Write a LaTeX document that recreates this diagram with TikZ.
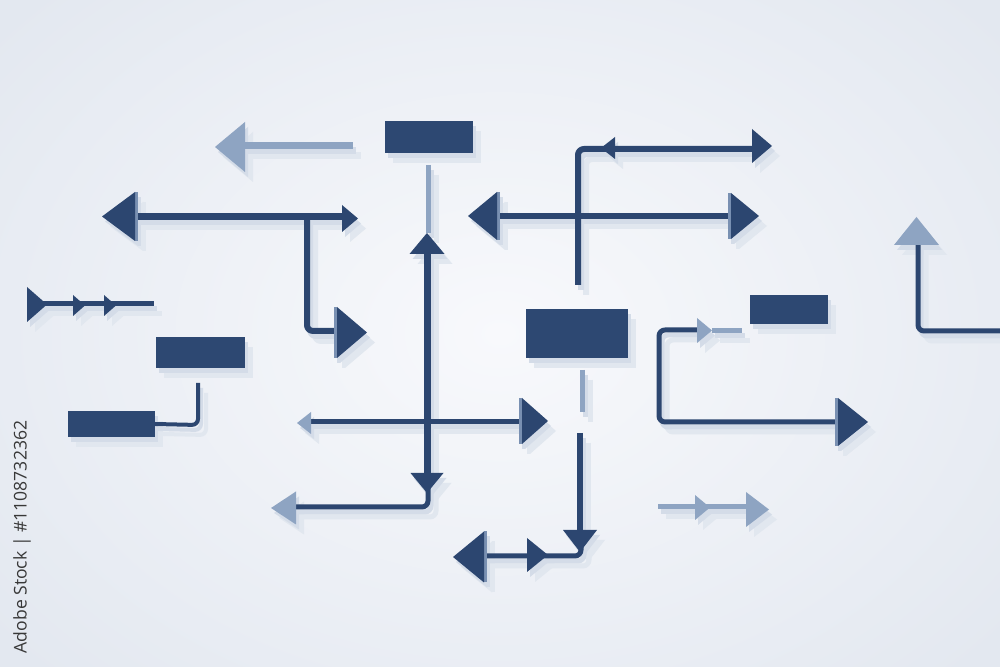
\documentclass[tikz,border=0pt]{standalone}
\usepackage{fontspec}
\newfontfamily\wmfont{Open Sans}
\usetikzlibrary{calc}
\definecolor{dkc}{HTML}{2C4670}
\definecolor{ltc}{HTML}{8EA4C2}
\definecolor{boxcc}{HTML}{2D4872}
\definecolor{sidec}{HTML}{7990B2}
\definecolor{bgin}{HTML}{F8F9FC}
\definecolor{bgout}{HTML}{E3E8F0}
\definecolor{shA}{HTML}{E1E7EF}
\definecolor{shB}{HTML}{D4DCE8}
\colorlet{dk}{dkc}
\colorlet{lt}{ltc}
\colorlet{boxc}{boxcc}
\colorlet{side}{sidec}
\tikzset{
  bar/.style={line width=#1, line cap=butt, line join=round, rounded corners=0.6mm},
  box/.style={fill=boxc, draw=none, inner sep=0pt, outer sep=0pt, rectangle},
}
% horizontal head: colour, base x, centre y, signed length, half width
\newcommand\hH[5]{\fill[#1] (#2,{#3-#5}) -- ({#2+#4},#3) -- (#2,{#3+#5}) -- cycle;}
% vertical head: colour, centre x, base y, signed length (+ = down), half width
\newcommand\hV[5]{\fill[#1] ({#2-#5},#3) -- (#2,{#3+#4}) -- ({#2+#5},#3) -- cycle;}
% side strip behind a horizontal head: base x, centre y, half width, direction
\newcommand\sH[4]{\fill[side] (#1,{#2-#3}) rectangle ({#1-3*(#4)},{#2+#3});}
\newcommand\scenery{%
  % boxes
  \node[box, minimum width=8.8mm, minimum height=3.2mm] (b1) at (429,137) {};
  \node[box, minimum width=8.9mm, minimum height=3.1mm] (b2) at (200.5,352.5) {};
  \node[box, minimum width=8.7mm, minimum height=2.6mm] (b3) at (111.5,424) {};
  \node[box, minimum width=10.2mm, minimum height=4.9mm] (b4) at (577,333.5) {};
  \node[box, minimum width=7.8mm, minimum height=2.9mm] (b5) at (789,309.5) {};
  % light arrow, top left
  \coordinate (a1s) at (245,146); \coordinate (a1e) at (353,146);
  \draw[lt, bar=0.7mm] (a1s) -- (a1e);
  \hH{lt}{245}{147}{-30}{25}
  % long double arrow with branch
  \coordinate (a2l) at (135,216.5); \coordinate (a2r) at (342,216.5);
  \coordinate (a2j) at (307,216.5); \coordinate (a2c) at (307,331); \coordinate (a2e) at (337,331);
  \draw[dk, bar=0.65mm] (a2l) -- (a2r);
  \draw[dk, bar=0.6mm] (a2j) -- (a2c) -- (a2e);
  \sH{135}{216.5}{24.5}{-1}
  \hH{dk}{135}{216.5}{-33}{24.5}
  \hH{dk}{342}{218.5}{16}{13.5}
  \sH{337}{332.5}{25.5}{1}
  \hH{dk}{337}{332.5}{30}{25.5}
  % triple arrow, left
  \coordinate (a3s) at (27,304); \coordinate (a3e) at (154,304);
  \draw[dk, bar=0.5mm] (a3s) -- (a3e);
  \hH{dk}{27}{304.5}{20}{17.5}
  \hH{dk}{73}{305.5}{12}{10.5}
  \hH{dk}{104}{305.5}{12}{10.5}
  % connector from box b3
  \coordinate (c3a) at (198,425); \coordinate (c3b) at (198,383);
  \draw[dk, bar=0.4mm] (b3.east) -- (c3a) -- (c3b);
  % light bar under b1
  \coordinate (l1a) at (428,165); \coordinate (l1b) at (428,233);
  \draw[lt, bar=0.5mm] (l1a) -- (l1b);
  % big vertical arrow
  \coordinate (v1t) at (427,254); \coordinate (v1b) at (427,473);
  \draw[dk, bar=0.7mm] (v1t) -- (v1b);
  \hV{dk}{427}{254}{-21}{17.5}
  \hV{dk}{427}{473}{20}{16.5}
  \coordinate (v1c) at (428,484); \coordinate (v1d) at (428,507); \coordinate (v1e) at (296,507);
  \draw[dk, bar=0.5mm] (v1c) -- (v1d) -- (v1e);
  \hH{lt}{296}{508}{-25}{16.5}
  % horizontal arrow through the vertical
  \coordinate (a4l) at (311,422); \coordinate (a4r) at (522,422);
  \draw[dk, bar=0.5mm] (a4l) -- (a4r);
  \hH{lt}{311}{423}{-14}{11}
  \sH{522}{421}{23}{1}
  \hH{dk}{522}{421}{26}{23}
  % light bar under b4
  \coordinate (l2a) at (582,370); \coordinate (l2b) at (582,412);
  \draw[lt, bar=0.5mm] (l2a) -- (l2b);
  % bottom centre arrows
  \coordinate (v2t) at (580,433); \coordinate (v2b) at (580,530);
  \draw[dk, bar=0.6mm] (v2t) -- (v2b);
  \hV{dk}{580}{530}{22}{17}
  \coordinate (v2c) at (581,540); \coordinate (v2d) at (581,556); \coordinate (v2e) at (484,556);
  \draw[dk, bar=0.5mm] (v2c) -- (v2d) -- (v2e);
  \sH{484}{557}{25.5}{-1}
  \hH{dk}{484}{557}{-31}{25.5}
  \hH{dk}{527}{555}{21}{17}
  % top right L double arrow
  \coordinate (a6a) at (578,285); \coordinate (a6b) at (578,149); \coordinate (a6c) at (752,149);
  \draw[dk, bar=0.6mm] (a6a) -- (a6b) -- (a6c);
  \hH{dk}{752}{146}{20}{17}
  \hH{dk}{615}{148}{-14}{11}
  % big double arrow, top centre right
  \coordinate (a5l) at (497,216); \coordinate (a5r) at (731,216);
  \draw[dk, bar=0.6mm] (a5l) -- (a5r);
  \sH{497}{216}{24}{-1}
  \hH{dk}{497}{216}{-29}{24}
  \sH{731}{216}{23}{1}
  \hH{dk}{731}{216}{28}{23}
  % loop arrow right
  \coordinate (a7a) at (697,330); \coordinate (a7b) at (659,330);
  \coordinate (a7c) at (659,422); \coordinate (a7d) at (838,422);
  \draw[dk, bar=0.5mm] (a7a) -- (a7b) -- (a7c) -- (a7d);
  \coordinate (a7s) at (712,331); \coordinate (a7t) at (742,331);
  \draw[lt, bar=0.5mm] (a7s) -- (a7t);
  \hH{lt}{697}{330.5}{15}{12.5}
  \sH{838}{422}{24}{1}
  \hH{dk}{838}{422}{30}{24}
  % up arrow, far right
  \coordinate (a8a) at (1010,331); \coordinate (a8b) at (918,331); \coordinate (a8c) at (918,245);
  \draw[dk, bar=0.5mm] (a8a) -- (a8b) -- (a8c);
  \hV{lt}{916.5}{245}{-28}{22.5}
  % light double right arrow, bottom right
  \coordinate (a9a) at (658,507); \coordinate (a9b) at (746,507);
  \draw[lt, bar=0.5mm] (a9a) -- (a9b);
  \hH{lt}{695}{507.5}{15}{12.5}
  \hH{lt}{746}{509.5}{23}{17.5}
}
\begin{document}
\begin{tikzpicture}[x=0.1mm, y=-0.1mm]
  \useasboundingbox (0,0) rectangle (1000,667);
  \shade[inner color=bgin, outer color=bgout] (-150,-150) rectangle (1150,817);
  \begin{scope}[shift={(8,10)}]
    \colorlet{dk}{shA}\colorlet{lt}{shA}\colorlet{boxc}{shA}\colorlet{side}{shA}
    \scenery
  \end{scope}
  \begin{scope}[shift={(3,5)}]
    \colorlet{dk}{shB}\colorlet{lt}{shB}\colorlet{boxc}{shB}\colorlet{side}{shB}
    \scenery
  \end{scope}
  \scenery
  \node[rotate=90, text=black!78, font=\wmfont\fontsize{5pt}{6pt}\selectfont, inner sep=0pt] (wm) at (22,537) {Adobe Stock | \#1108732362};
\end{tikzpicture}
\end{document}
